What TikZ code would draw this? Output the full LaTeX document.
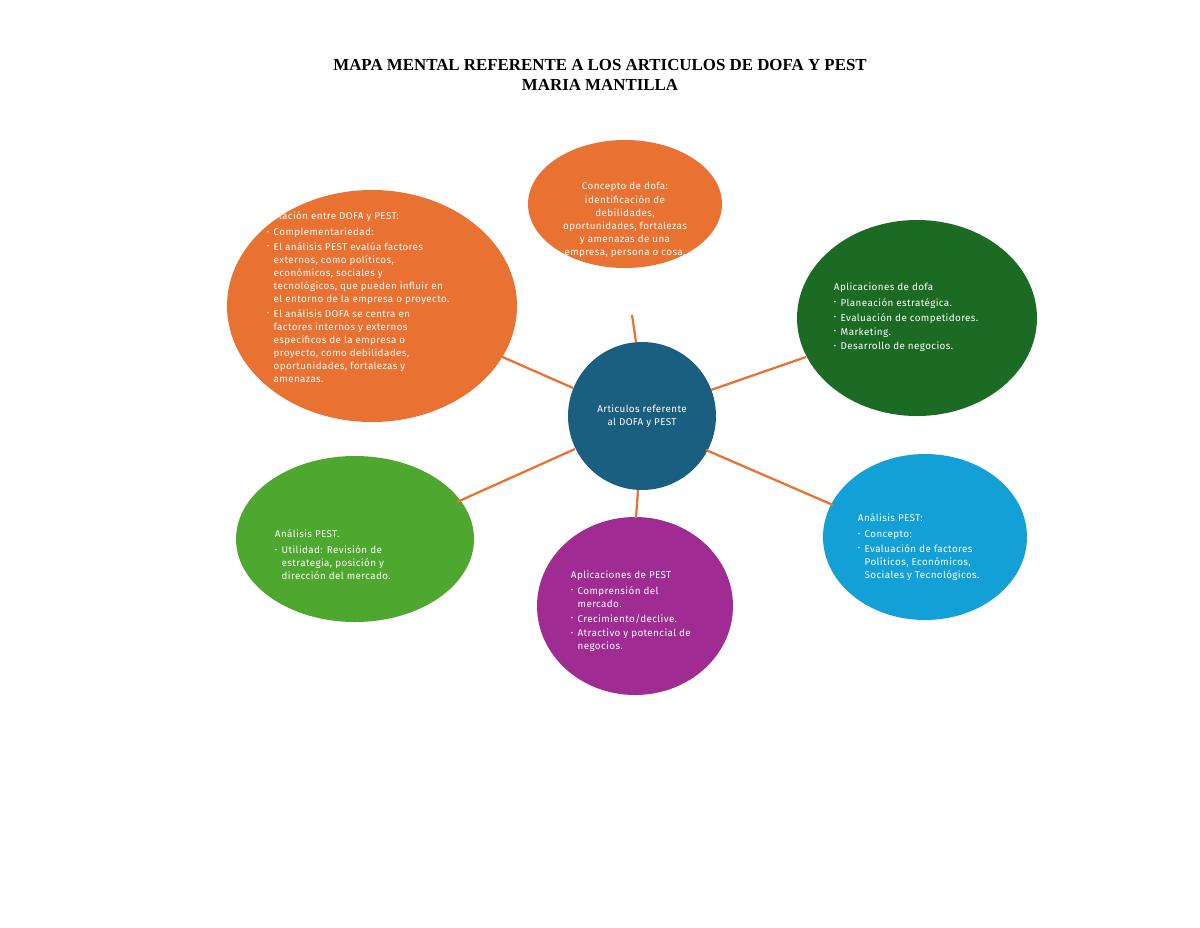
\documentclass[tikz,border=0pt]{standalone}
\usepackage{fontspec}
\setmainfont{Liberation Serif}
\newfontfamily\bodyf{Fira Sans}[LetterSpace=4]
\usetikzlibrary{shapes.geometric}
\definecolor{org}{HTML}{E97132}
\definecolor{blu}{HTML}{1A5E80}
\definecolor{dgr}{HTML}{1B6B24}
\definecolor{lbl}{HTML}{12A0D7}
\definecolor{pur}{HTML}{A02B93}
\definecolor{lgr}{HTML}{4EA72E}
\newcommand{\bt}{\makebox[1.3ex][l]{\raisebox{.3ex}{\tiny\textbullet}}}
\newcommand{\ind}{\hspace*{1.3ex}}
\begin{document}
\begin{tikzpicture}[x=0.025cm,y=-0.025cm,
  bub/.style={ellipse,minimum width=#1},
  txt/.style={text=white,font=\bodyf\fontsize{7}{9.3}\selectfont,align=left},
  link/.style={draw=org,line width=1.6pt}]
\useasboundingbox (0,0) rectangle (1200,927);
\node[font=\bfseries\fontsize{12}{14}\selectfont,align=center] (title) at (600,75) {MAPA MENTAL REFERENTE A LOS ARTICULOS DE DOFA Y PEST\\MARIA MANTILLA};
\fill[blu] (642,416) ellipse [x radius=74,y radius=74];
\fill[org] (625,204) ellipse [x radius=97,y radius=64];
\fill[org] (372,306) ellipse [x radius=145,y radius=116];
\fill[dgr] (917,318) ellipse [x radius=120,y radius=98];
\fill[lbl] (925,537) ellipse [x radius=102,y radius=83];
\fill[pur] (635,606) ellipse [x radius=98,y radius=89];
\fill[lgr] (355,539) ellipse [x radius=119,y radius=83];
\node[txt,align=center] (c) at (642,416) {Articulos referente\\al DOFA y PEST};
\node[txt,align=center] (top) at (625,220) {Concepto de dofa:\\identificación de\\debilidades,\\oportunidades, fortalezas\\y amenazas de una\\empresa, persona o cosa.};
\node[txt,anchor=north west] (rel) at (262,207) {Relación entre DOFA y PEST:\\[2pt]
\bt Complementariedad:\\[1pt]
\bt El análisis PEST evalúa factores\\\ind externos, como políticos,\\\ind económicos, sociales y\\\ind tecnológicos, que pueden influir en\\\ind el entorno de la empresa o proyecto.\\[1pt]
\bt El análisis DOFA se centra en\\\ind factores internos y externos\\\ind específicos de la empresa o\\\ind proyecto, como debilidades,\\\ind oportunidades, fortalezas y\\\ind amenazas.};
\node[txt,anchor=north west] (apd) at (829,278) {Aplicaciones de dofa\\[2pt]
\bt Planeación estratégica.\\[1pt]\bt Evaluación de competidores.\\[1pt]\bt Marketing.\\[1pt]\bt Desarrollo de negocios.};
\node[txt,anchor=north west] (pest) at (853,509) {Análisis PEST:\\[2pt]
\bt Concepto:\\[1pt]\bt Evaluación de factores\\\ind Políticos, Económicos,\\\ind Sociales y Tecnológicos.};
\node[txt,anchor=north west] (app) at (566,566) {Aplicaciones de PEST\\[2pt]
\bt Comprensión del\\\ind mercado.\\[1pt]\bt Crecimiento/declive.\\[1pt]\bt Atractivo y potencial de\\\ind negocios.};
\node[txt,anchor=north west] (util) at (270,525) {Análisis PEST.\\[2pt]
\bt Utilidad: Revisión de\\\ind estrategia, posición y\\\ind dirección del mercado.};
\coordinate (a1) at (632,315); \coordinate (a2) at (636,342);
\coordinate (b1) at (498,355); \coordinate (b2) at (573,388);
\coordinate (d1) at (711,390); \coordinate (d2) at (806,357);
\coordinate (e1) at (706,450); \coordinate (e2) at (833,505);
\coordinate (f1) at (638,490); \coordinate (f2) at (636,518);
\coordinate (g1) at (457,502); \coordinate (g2) at (575,449);
\foreach \p/\q in {a1/a2,b1/b2,d1/d2,e1/e2,f1/f2,g1/g2} \draw[link] (\p) -- (\q);
\end{tikzpicture}
\end{document}
